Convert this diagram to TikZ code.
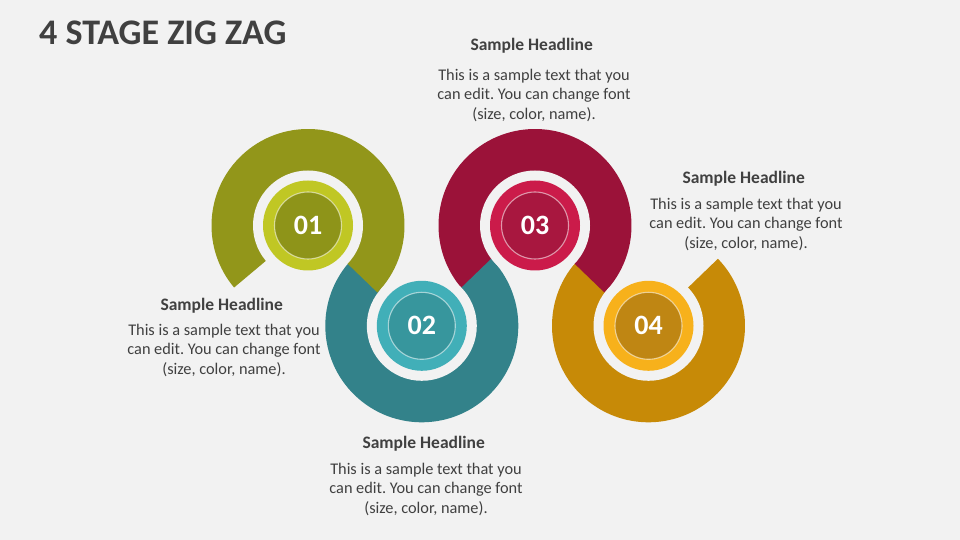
\documentclass[tikz,border=0pt]{standalone}
\usepackage{fontspec}
\setmainfont{Carlito}
\usetikzlibrary{calc}
\frenchspacing
\definecolor{bgc}{HTML}{F2F2F2}
\definecolor{txt}{HTML}{404040}
\definecolor{oliveR}{HTML}{92961A}
\definecolor{oliveD}{HTML}{C0C724}
\definecolor{oliveI}{HTML}{8E9419}
\definecolor{tealR}{HTML}{33828A}
\definecolor{tealD}{HTML}{41AFB8}
\definecolor{tealI}{HTML}{37969D}
\definecolor{crimR}{HTML}{9B1239}
\definecolor{crimD}{HTML}{CB1B4A}
\definecolor{crimI}{HTML}{A8173F}
\definecolor{goldR}{HTML}{C78A07}
\definecolor{goldD}{HTML}{F7B11B}
\definecolor{goldI}{HTML}{BF8613}
\newcommand{\zzseg}[4]{%
  \fill[#4] ($(#1)+(#2:96.5)$) arc[start angle=#2, end angle=#3, radius=96.5]
    -- ($(#1)+(#3:50)$) arc[start angle=#3, end angle=#2, radius=50] -- cycle;}
\begin{document}
\begin{tikzpicture}[x=1pt,y=1pt,
  gapdisk/.style={circle, fill=bgc, minimum size=110pt, inner sep=0pt},
  outdisk/.style={circle, minimum size=90pt, inner sep=0pt},
  indisk/.style={circle, minimum size=67pt, inner sep=0pt, draw=white, draw opacity=0.55, line width=1.1pt, text=white, font=\bfseries\fontsize{28}{30}\selectfont},
  headl/.style={anchor=base, text=txt, font=\bfseries\fontsize{17.5}{20}\selectfont, inner sep=0pt},
  bodyt/.style={anchor=base, text=txt, align=center, font=\fontsize{16.3}{19.5}\selectfont, inner sep=0pt}]
\useasboundingbox (0,0) rectangle (960,540);
\fill[bgc] (0,0) rectangle (960,540);
\coordinate (c1) at (308,314.5);
\coordinate (c2) at (421.8,214.2);
\coordinate (c3) at (535,314.5);
\coordinate (c4) at (648.5,214.2);
% rings, back to front
\zzseg{c4}{139}{404}{goldR}
\zzseg{c3}{-44}{221}{crimR}
\zzseg{c2}{139}{404}{tealR}
\zzseg{c1}{-44}{220}{oliveR}
% gaps
\foreach \i in {1,2,3,4} {\node[gapdisk] (g\i) at (c\i) {};}
% disks
\node[outdisk, fill=oliveD] (d1) at (c1) {};
\node[outdisk, fill=tealD] (d2) at (c2) {};
\node[outdisk, fill=crimD] (d3) at (c3) {};
\node[outdisk, fill=goldD] (d4) at (c4) {};
\node[indisk, fill=oliveI] (n1) at (c1) {01};
\node[indisk, fill=tealI] (n2) at (c2) {02};
\node[indisk, fill=crimI] (n3) at (c3) {03};
\node[indisk, fill=goldI] (n4) at (c4) {04};
% title
\node[anchor=base west, inner sep=0pt, text=txt, font=\bfseries\fontsize{36}{40}\selectfont] (title) at (39,495) {4 STAGE ZIG ZAG};
% texts
\node[headl] (h3) at (531.7,489.3) {Sample Headline};
\node[bodyt] (b3) at (534,420.5) {This is a sample text that you\\can edit. You can change font\\(size, color, name).};
\node[headl] (h1) at (221.7,229.3) {Sample Headline};
\node[bodyt] (b1) at (224,165.5) {This is a sample text that you\\can edit. You can change font\\(size, color, name).};
\node[headl] (h2) at (423.7,91.7) {Sample Headline};
\node[bodyt] (b2) at (426,26.7) {This is a sample text that you\\can edit. You can change font\\(size, color, name).};
\node[headl] (h4) at (743.7,356.7) {Sample Headline};
\node[bodyt] (b4) at (746,291.7) {This is a sample text that you\\can edit. You can change font\\(size, color, name).};
\end{tikzpicture}
\end{document}
